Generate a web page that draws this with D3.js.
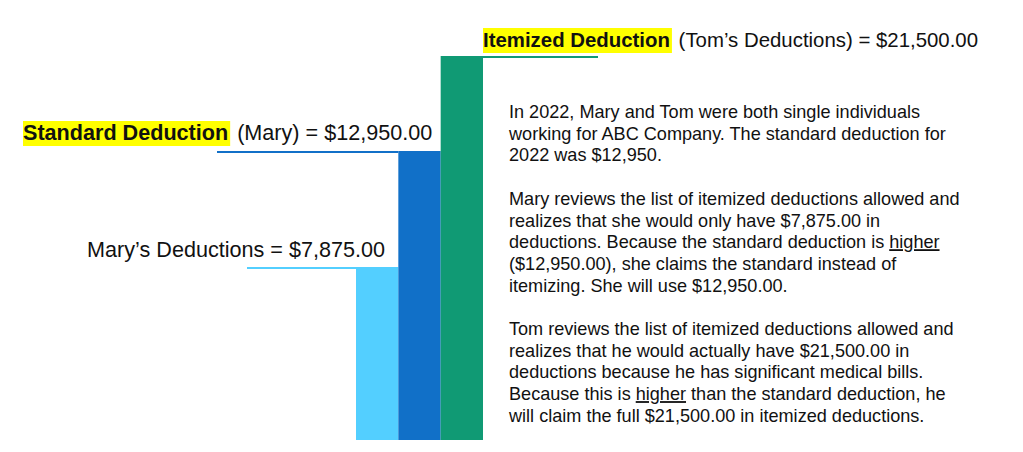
<!DOCTYPE html>
<html>
<head>
<meta charset="utf-8">
<script src="https://cdn.jsdelivr.net/npm/d3@7"></script>
<style>
  body { margin: 0; background: #fff; }
  svg { display: block; font-family: "Liberation Sans", Arial, sans-serif; }
</style>
</head>
<body>
<svg width="1023" height="452"></svg>
<script>
// bar data
var keys = ["mary", "standard", "tom"];
var amounts = [7875, 12950, 21500];
var colors = ["#53cfff", "#1170c8", "#109a74"];

// labels: bold highlighted part, plain part
var boldLabels = ["", "Standard Deduction", "Itemized Deduction"];
var plainLabels = ["Mary\u2019s Deductions = $7,875.00", "(Mary) = $12,950.00", "(Tom\u2019s Deductions) = $21,500.00"];

// explanation text, one entry per line ("" = blank line), __ marks underline
var notes = [
  "In 2022, Mary and Tom were both single individuals",
  "working for ABC Company. The standard deduction for",
  "2022 was $12,950.",
  "",
  "Mary reviews the list of itemized deductions allowed and",
  "realizes that she would only have $7,875.00 in",
  "deductions. Because the standard deduction is __higher__",
  "($12,950.00), she claims the standard instead of",
  "itemizing. She will use $12,950.00.",
  "",
  "Tom reviews the list of itemized deductions allowed and",
  "realizes that he would actually have $21,500.00 in",
  "deductions because he has significant medical bills.",
  "Because this is __higher__ than the standard deduction, he",
  "will claim the full $21,500.00 in itemized deductions."
];

var svg = d3.select("svg");

var x = d3.scaleBand()
  .domain(keys)
  .range([356, 483])
  .padding(0);

// the source picture is illustrative, not proportional, so the scale is piecewise
var y = d3.scaleLinear()
  .domain([0].concat(amounts))
  .range([440, 267, 151, 56]);

var bars = svg.append("g").selectAll("rect")
  .data(keys)
  .enter().append("rect")
  .attr("x", function(d) { return x(d); })
  .attr("y", function(d, i) { return y(amounts[i]); })
  .attr("width", x.bandwidth())
  .attr("height", function(d, i) { return y(0) - y(amounts[i]); })
  .attr("fill", function(d, i) { return colors[i]; });

// leader lines
var lineSpecs = [
  {i: 0, x1: 247, x2: x("mary")},
  {i: 1, x1: 217, x2: x("standard")},
  {i: 2, x1: x("tom") + x.bandwidth(), x2: 598}
];
svg.append("g").selectAll("line")
  .data(lineSpecs)
  .enter().append("line")
  .attr("x1", function(d) { return d.x1; })
  .attr("x2", function(d) { return d.x2; })
  .attr("y1", function(d) { return y(amounts[d.i]) + 1; })
  .attr("y2", function(d) { return y(amounts[d.i]) + 1; })
  .attr("stroke", function(d) { return colors[d.i]; })
  .attr("stroke-width", 2);

// labels
var labelPos = [
  {x: 385, y: 257, anchor: "end", size: 21.6},
  {x: 23, y: 140, anchor: "start", size: 21.6},
  {x: 483, y: 47, anchor: "start", size: 20.4}
];
labelPos.forEach(function(p, i) {
  var g = svg.append("g");
  var t = g.append("text")
    .attr("x", p.x)
    .attr("y", p.y)
    .attr("text-anchor", p.anchor)
    .attr("font-size", p.size)
    .attr("fill", "#111");
  if (boldLabels[i]) {
    var b = t.append("tspan")
      .attr("font-weight", "bold")
      .text(boldLabels[i] + " ");
    var w = b.node().getComputedTextLength();
    g.insert("rect", "text")
      .attr("x", p.x)
      .attr("y", p.y - 19)
      .attr("width", w + 2)
      .attr("height", 25)
      .attr("fill", "#ffff00");
    t.append("tspan").attr("dx", 3).text(plainLabels[i]);
  } else {
    t.append("tspan").text(plainLabels[i]);
  }
});

// explanation paragraph
var body = svg.append("text")
  .attr("font-size", 18.1)
  .attr("fill", "#111");
notes.forEach(function(line, k) {
  if (!line) return;
  var parts = line.split("__");
  parts.forEach(function(part, j) {
    var ts = body.append("tspan").text(part);
    if (j == 0) ts.attr("x", 509).attr("y", 118 + k * 21.7);
    if (j % 2 == 1) ts.attr("text-decoration", "underline");
  });
});
</script>
</body>
</html>
